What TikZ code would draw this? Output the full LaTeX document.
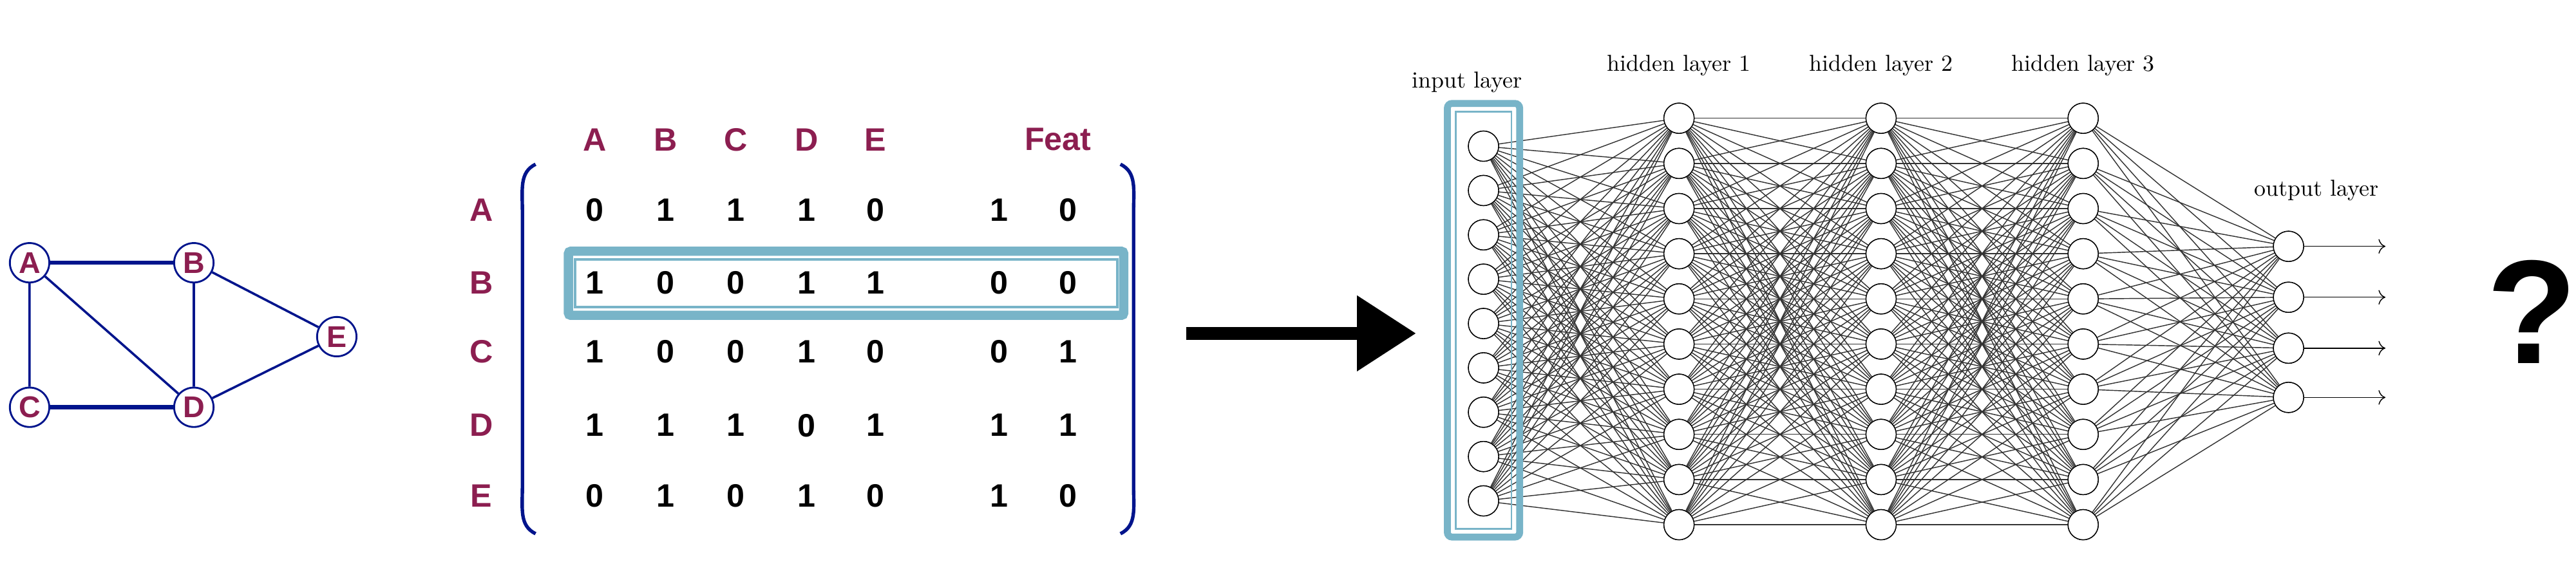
\documentclass[tikz,border=0pt]{standalone}
\usepackage{fontspec}
\newfontfamily\arialfont{Liberation Sans}
\usetikzlibrary{arrows.meta}
\definecolor{lab}{RGB}{140,30,80}
\definecolor{edgeblue}{RGB}{0,20,140}
\definecolor{hilite}{RGB}{120,180,200}
\tikzset{
  gnode/.style={circle,draw=edgeblue,thick,fill=white,inner sep=0pt,minimum size=0.6cm,font=\arialfont\bfseries\fontsize{13}{13}\selectfont,text=lab},
  gedge/.style={draw=edgeblue,line width=1pt},
  lab/.style={font=\arialfont\bfseries\fontsize{14}{14}\selectfont,text=lab},
  entry/.style={font=\arialfont\bfseries\fontsize{14}{14}\selectfont},
  neuron/.style={circle,draw,fill=white,inner sep=0pt,minimum size=0.46cm},
  layername/.style={font=\fontsize{10}{10}\selectfont}
}
\begin{document}
\begin{tikzpicture}[x=0.025cm,y=-0.025cm]
	\useasboundingbox (0,0) rectangle (1568,342);
	% graph
	\node[gnode] (A) at (18,160) {A};
	\node[gnode] (B) at (118,160) {B};
	\node[gnode] (C) at (18,248) {C};
	\node[gnode] (D) at (118,248) {D};
	\node[gnode] (E) at (205,205) {E};
	\path[gedge] (A) -- (C) (A) -- (D) (B) -- (D) (B) -- (E) (D) -- (E);
	\path[gedge,line width=1.8pt] (A) -- (B) (C) -- (D);
	% feature matrix
	\foreach \c/\x in {A/362,B/405,C/448,D/491,E/533}
		\node[lab] (col-\c) at (\x,85) {\c};
	\node[lab] (col-F) at (644,85) {Feat};
	\foreach \r/\y in {A/128,B/172,C/214,D/259,E/302}
		\node[lab] (row-\r) at (293,\y) {\r};
	\foreach \y [count=\i] in {128,172,214,259,302}
		\foreach \x [count=\j] in {362,405,448,491,533,608,650}
			\coordinate (m-\i-\j) at (\x,\y);
	\foreach \row [count=\i] in {{0,1,1,1,0,1,0},{1,0,0,1,1,0,0},{1,0,0,1,0,0,1},{1,1,1,0,1,1,1},{0,1,0,1,0,1,0}}
		\foreach \v [count=\j] in \row
			\node[entry] at (m-\i-\j) {\v};
	\draw[edgeblue,line width=1.5pt] (326,100) .. controls (316,105) and (318,115) .. (318,130) -- (318,295) .. controls (318,310) and (316,320) .. (326,325);
	\draw[edgeblue,line width=1.5pt] (682,100) .. controls (692,105) and (690,115) .. (690,130) -- (690,295) .. controls (690,310) and (692,320) .. (682,325);
	\draw[hilite,line width=4pt,rounded corners=1pt] (346,153) rectangle (684,192);
	\draw[hilite,line width=1pt] (350,158) rectangle (680,187);
	% arrow
	\coordinate (arr-s) at (722,203);
	\coordinate (arr-e) at (862,203);
	\draw[line width=0.2cm,-{Triangle[length=0.9cm,width=1.1cm]}] (arr-s) -- (arr-e);
	% network
	\foreach \i in {1,...,9}
		\node[neuron] (in-\i) at (903,{89+27*(\i-1)}) {};
	\foreach \l/\x in {1/1022,2/1145,3/1268}
		\foreach \i in {1,...,10}
			\node[neuron] (h\l-\i) at (\x,{72+27.5*(\i-1)}) {};
	\foreach \i/\y in {1/150,2/181,3/212,4/242}
		\node[neuron] (out-\i) at (1393,\y) {};
	\begin{scope}[line width=0.4pt,black!80]
		\foreach \i in {1,...,9}
			\foreach \j in {1,...,10}
				\draw (in-\i) -- (h1-\j);
		\foreach \a/\b in {1/2,2/3}
			\foreach \i in {1,...,10}
				\foreach \j in {1,...,10}
					\draw (h\a-\i) -- (h\b-\j);
		\foreach \i in {1,...,10}
			\foreach \j in {1,...,4}
				\draw (h3-\i) -- (out-\j);
	\end{scope}
	\foreach \i in {1,...,9}
		\node[neuron] at (in-\i) {};
	\foreach \l in {1,2,3}
		\foreach \i in {1,...,10}
			\node[neuron] at (h\l-\i) {};
	\foreach \i in {1,...,4} {
		\node[neuron] at (out-\i) {};
		\coordinate (y-\i) at (1452,0 |- out-\i);
		\draw[-{To[length=3pt]}] (out-\i) -- (y-\i);
	}
	\draw[hilite,line width=3pt,rounded corners=2pt] (881,63) rectangle (925,327);
	\draw[hilite,line width=0.8pt] (886,68) rectangle (920,322);
	\node[layername] (lbl-in) at (893,50) {input layer};
	\node[layername] (lbl-h1) at (1022,40) {hidden layer 1};
	\node[layername] (lbl-h2) at (1145,40) {hidden layer 2};
	\node[layername] (lbl-h3) at (1268,40) {hidden layer 3};
	\node[layername] (lbl-out) at (1410,116) {output layer};
	% question
	\node[font=\arialfont\bfseries\fontsize{64}{64}\selectfont] (q) at (1541,190) {?};
\end{tikzpicture}
\end{document}
